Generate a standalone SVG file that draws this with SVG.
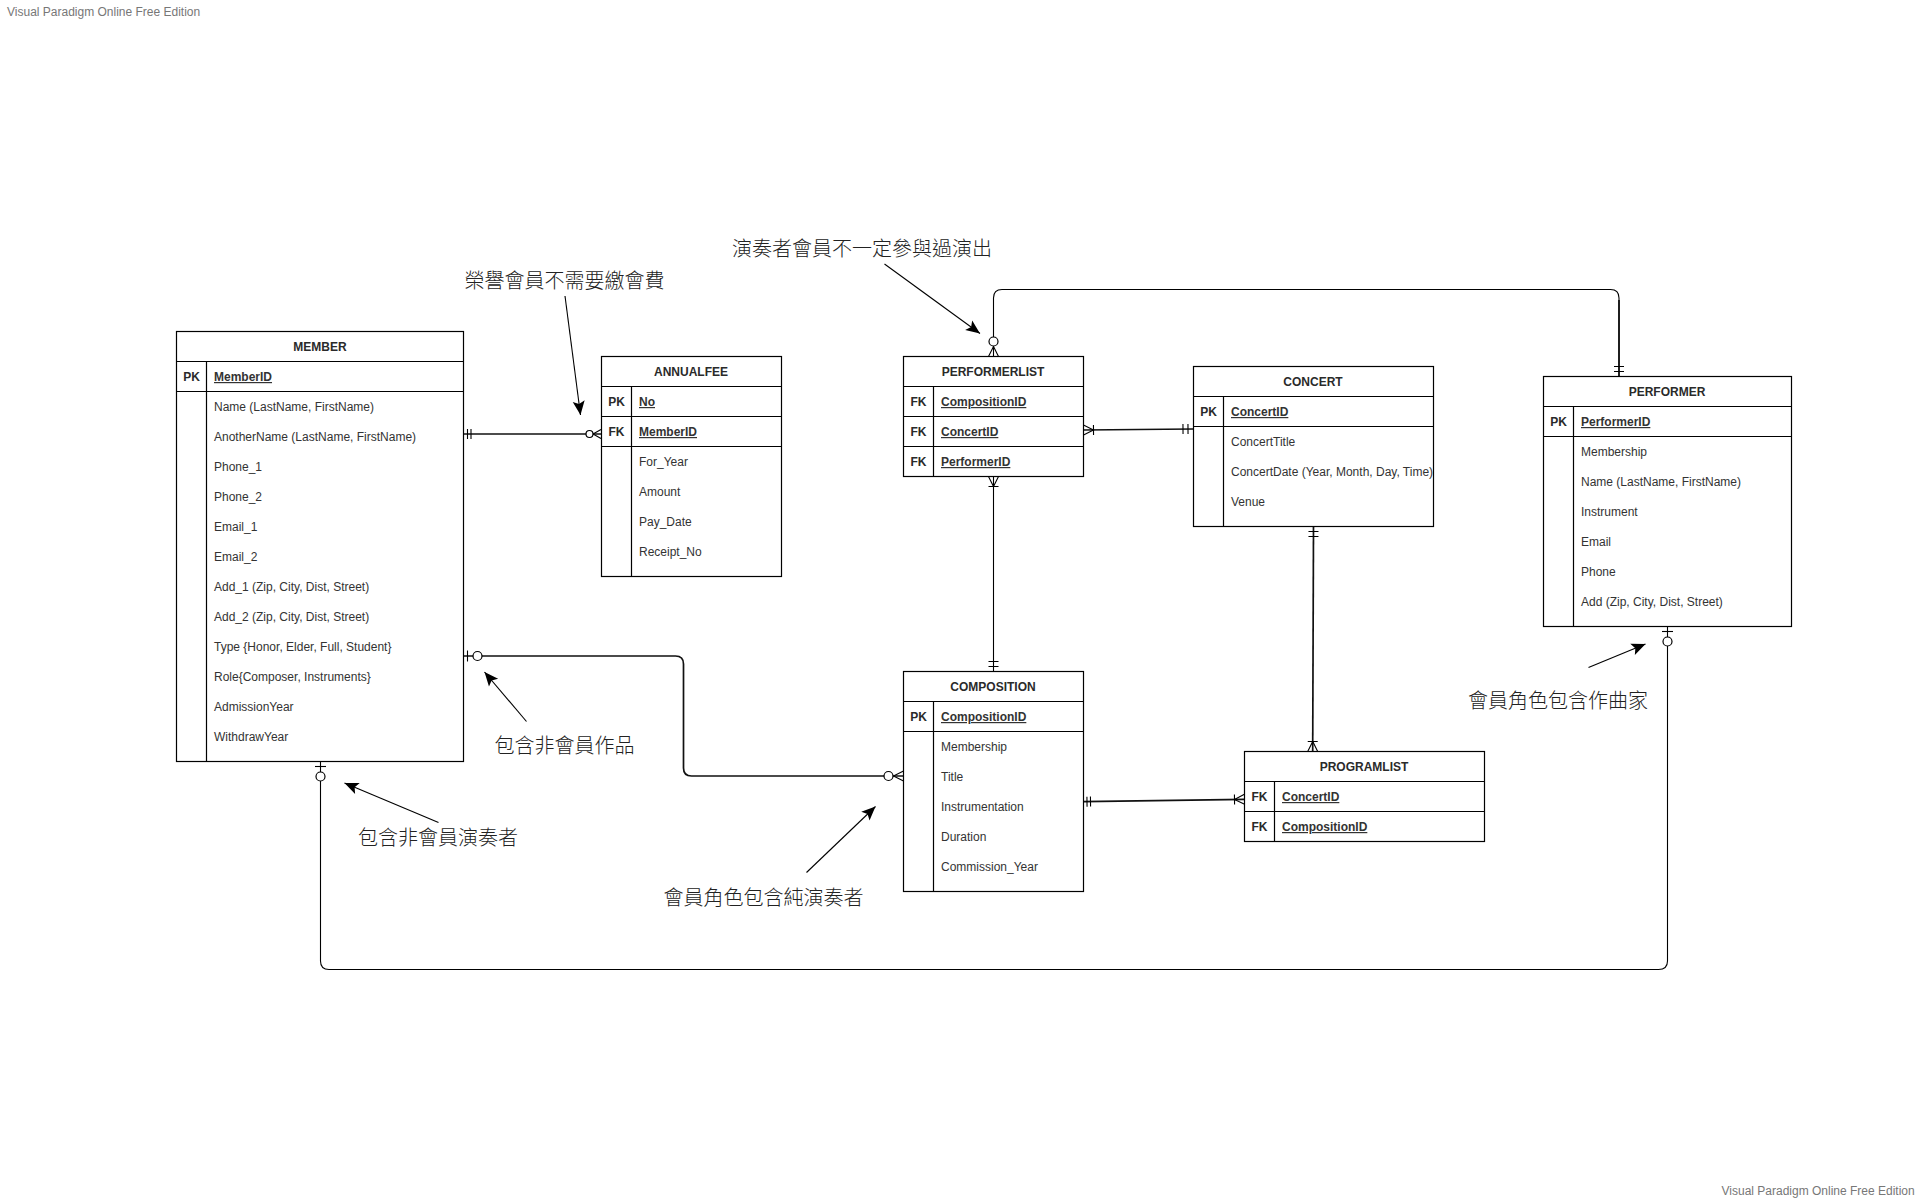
<svg xmlns="http://www.w3.org/2000/svg" width="1920" height="1200" viewBox="0 0 1920 1200">
<style>
text{font-family:"Liberation Sans",Arial,sans-serif;font-size:12px}
.box{fill:#fff;stroke:#000;stroke-width:1.2}
.div{fill:none;stroke:#000;stroke-width:1.2}
.title{fill:#2a2a2a;text-anchor:middle;font-weight:bold}
.key{fill:#2a2a2a;text-anchor:middle;font-weight:bold}
.pk{fill:#333;text-decoration:underline;font-weight:bold}
.f{fill:#333}
.wm{fill:#777}
.note{font-family:"Noto Sans CJK TC","Noto Sans CJK SC",sans-serif;font-size:20px;font-weight:300;fill:#222;text-anchor:middle}
.c{fill:none;stroke:#000;stroke-width:1.1}
.c2{fill:none;stroke:#111;stroke-width:1.7}
.a{fill:none;stroke:#000;stroke-width:1.1;marker-end:url(#arrow)}
marker{overflow:visible}
.m{fill:none;stroke:#000;stroke-width:1.1}
.mo{fill:#fff;stroke:#000;stroke-width:1.2}
</style>
<defs>
<marker id="arrow" markerUnits="userSpaceOnUse" markerWidth="20" markerHeight="20" refX="0" refY="0" orient="auto"><path d="M-14 -6 L0 0 L-14 6 L-11 0Z" fill="#000"/></marker>
<marker id="oneone" markerUnits="userSpaceOnUse" markerWidth="20" markerHeight="20" refX="0" refY="0" orient="auto-start-reverse"><path class="m" d="M-5 -5V5M-10 -5V5"/></marker>
<marker id="oneoneT" markerUnits="userSpaceOnUse" markerWidth="20" markerHeight="20" refX="0" refY="0" orient="auto-start-reverse"><path class="m" d="M-3.5 -5V5M-7 -5V5"/></marker>
<marker id="zeroone" markerUnits="userSpaceOnUse" markerWidth="20" markerHeight="20" refX="0" refY="0" orient="auto-start-reverse"><path class="m" d="M-4.5 -5.5V5.5"/><circle class="mo" cx="-14.5" cy="0" r="4.5"/></marker>
<marker id="zeromany" markerUnits="userSpaceOnUse" markerWidth="20" markerHeight="20" refX="0" refY="0" orient="auto-start-reverse"><path class="m" d="M0 -5L-10 0L0 5"/><circle class="mo" cx="-15" cy="0" r="4.5"/></marker>
<marker id="zeromanyS" markerUnits="userSpaceOnUse" markerWidth="20" markerHeight="20" refX="0" refY="0" orient="auto-start-reverse"><path class="m" d="M0 -4.5L-8 0L0 4.5"/><circle class="mo" cx="-11.5" cy="0" r="3.5"/></marker>
<marker id="onemany" markerUnits="userSpaceOnUse" markerWidth="20" markerHeight="20" refX="0" refY="0" orient="auto-start-reverse"><path class="m" d="M0 -5L-10 0L0 5M-10 -5V5"/></marker>
</defs>
<rect width="1920" height="1200" fill="#fff"/>
<text class="wm" x="7" y="16">Visual Paradigm Online Free Edition</text>
<text class="wm" x="1721.5" y="1195">Visual Paradigm Online Free Edition</text>

<g id="connectors">
<path class="c2" d="M464 434H601" marker-start="url(#oneoneT)" marker-end="url(#zeromanyS)"/>
<path class="c2" d="M463 656H675.5Q683.5 656 683.5 664V768Q683.5 776 691.5 776H903.5" marker-start="url(#zeroone)" marker-end="url(#zeromany)"/>
<path class="c" d="M320.5 762V961Q320.5 969.5 329 969.5H1658.5Q1667.5 969.5 1667.5 961V627" marker-start="url(#zeroone)" marker-end="url(#zeroone)"/>
<path class="c" d="M993.5 356.5V298Q993.5 289.5 1002 289.5H1610.5Q1619 289.5 1619 298V376.5" marker-start="url(#zeromany)"/>
<path class="c2" d="M1619 300V376.5" marker-end="url(#oneone)"/>
<path class="c" d="M993.5 476.5V671.5" marker-start="url(#onemany)" marker-end="url(#oneone)"/>
<path class="c2" d="M1083.5 430L1193 429" marker-start="url(#onemany)" marker-end="url(#oneone)"/>
<path class="c2" d="M1313.5 526.5L1312.7 751.5" marker-start="url(#oneone)" marker-end="url(#onemany)"/>
<path class="c2" d="M1083.5 801.7L1244.5 799.3" marker-start="url(#oneoneT)" marker-end="url(#onemany)"/>
</g>

<g id="annotations">
<path class="a" d="M565 296L580.5 415"/>
<path class="a" d="M884.5 264L980 333.5"/>
<path class="a" d="M526.5 721.5L484.5 672"/>
<path class="a" d="M438.5 822.5L344.5 783"/>
<path class="a" d="M806.5 872.5L875.5 806.5"/>
<path class="a" d="M1588.5 667.5L1645.5 644"/>
<text class="note" x="564.5" y="288">榮譽會員不需要繳會費</text>
<text class="note" x="862" y="256">演奏者會員不一定參與過演出</text>
<text class="note" x="564.5" y="752.5">包含非會員作品</text>
<text class="note" x="438" y="845">包含非會員演奏者</text>
<text class="note" x="763.5" y="904.5">會員角色包含純演奏者</text>
<text class="note" x="1558" y="707.5">會員角色包含作曲家</text>
</g>

<g id="member">
<rect class="box" x="176.5" y="331.5" width="287" height="430"/>
<path class="div" d="M176.5 361.5H463.5M176.5 391.5H463.5M206.5 361.5V761.5"/>
<text class="title" x="320" y="351">MEMBER</text>
<text class="key" x="191.5" y="381">PK</text>
<text class="pk" x="214" y="381">MemberID</text>
<text class="f" x="214" y="411">Name (LastName, FirstName)</text>
<text class="f" x="214" y="441">AnotherName (LastName, FirstName)</text>
<text class="f" x="214" y="471">Phone_1</text>
<text class="f" x="214" y="501">Phone_2</text>
<text class="f" x="214" y="531">Email_1</text>
<text class="f" x="214" y="561">Email_2</text>
<text class="f" x="214" y="591">Add_1 (Zip, City, Dist, Street)</text>
<text class="f" x="214" y="621">Add_2 (Zip, City, Dist, Street)</text>
<text class="f" x="214" y="651">Type {Honor, Elder, Full, Student}</text>
<text class="f" x="214" y="681">Role{Composer, Instruments}</text>
<text class="f" x="214" y="711">AdmissionYear</text>
<text class="f" x="214" y="741">WithdrawYear</text>
</g>

<g id="annualfee">
<rect class="box" x="601.5" y="356.5" width="180" height="220"/>
<path class="div" d="M601.5 386.5H781.5M601.5 416.5H781.5M601.5 446.5H781.5M631.5 386.5V576.5"/>
<text class="title" x="691" y="376">ANNUALFEE</text>
<text class="key" x="616.5" y="406">PK</text>
<text class="pk" x="639" y="406">No</text>
<text class="key" x="616.5" y="436">FK</text>
<text class="pk" x="639" y="436">MemberID</text>
<text class="f" x="639" y="466">For_Year</text>
<text class="f" x="639" y="496">Amount</text>
<text class="f" x="639" y="526">Pay_Date</text>
<text class="f" x="639" y="556">Receipt_No</text>
</g>

<g id="performerlist">
<rect class="box" x="903.5" y="356.5" width="180" height="120"/>
<path class="div" d="M903.5 386.5H1083.5M903.5 416.5H1083.5M903.5 446.5H1083.5M933.5 386.5V476.5"/>
<text class="title" x="993" y="376">PERFORMERLIST</text>
<text class="key" x="918.5" y="406">FK</text>
<text class="pk" x="941" y="406">CompositionID</text>
<text class="key" x="918.5" y="436">FK</text>
<text class="pk" x="941" y="436">ConcertID</text>
<text class="key" x="918.5" y="466">FK</text>
<text class="pk" x="941" y="466">PerformerID</text>
</g>

<g id="concert">
<rect class="box" x="1193.5" y="366.5" width="240" height="160"/>
<path class="div" d="M1193.5 396.5H1433.5M1193.5 426.5H1433.5M1223.5 396.5V526.5"/>
<text class="title" x="1313" y="386">CONCERT</text>
<text class="key" x="1208.5" y="416">PK</text>
<text class="pk" x="1231" y="416">ConcertID</text>
<text class="f" x="1231" y="446">ConcertTitle</text>
<text class="f" x="1231" y="476">ConcertDate (Year, Month, Day, Time)</text>
<text class="f" x="1231" y="506">Venue</text>
</g>

<g id="performer">
<rect class="box" x="1543.5" y="376.5" width="248" height="250"/>
<path class="div" d="M1543.5 406.5H1791.5M1543.5 436.5H1791.5M1573.5 406.5V626.5"/>
<text class="title" x="1667" y="396">PERFORMER</text>
<text class="key" x="1558.5" y="426">PK</text>
<text class="pk" x="1581" y="426">PerformerID</text>
<text class="f" x="1581" y="456">Membership</text>
<text class="f" x="1581" y="486">Name (LastName, FirstName)</text>
<text class="f" x="1581" y="516">Instrument</text>
<text class="f" x="1581" y="546">Email</text>
<text class="f" x="1581" y="576">Phone</text>
<text class="f" x="1581" y="606">Add (Zip, City, Dist, Street)</text>
</g>

<g id="composition">
<rect class="box" x="903.5" y="671.5" width="180" height="220"/>
<path class="div" d="M903.5 701.5H1083.5M903.5 731.5H1083.5M933.5 701.5V891.5"/>
<text class="title" x="993" y="691">COMPOSITION</text>
<text class="key" x="918.5" y="721">PK</text>
<text class="pk" x="941" y="721">CompositionID</text>
<text class="f" x="941" y="751">Membership</text>
<text class="f" x="941" y="781">Title</text>
<text class="f" x="941" y="811">Instrumentation</text>
<text class="f" x="941" y="841">Duration</text>
<text class="f" x="941" y="871">Commission_Year</text>
</g>

<g id="programlist">
<rect class="box" x="1244.5" y="751.5" width="240" height="90"/>
<path class="div" d="M1244.5 781.5H1484.5M1244.5 811.5H1484.5M1274.5 781.5V841.5"/>
<text class="title" x="1364" y="771">PROGRAMLIST</text>
<text class="key" x="1259.5" y="801">FK</text>
<text class="pk" x="1282" y="801">ConcertID</text>
<text class="key" x="1259.5" y="831">FK</text>
<text class="pk" x="1282" y="831">CompositionID</text>
</g>
</svg>
